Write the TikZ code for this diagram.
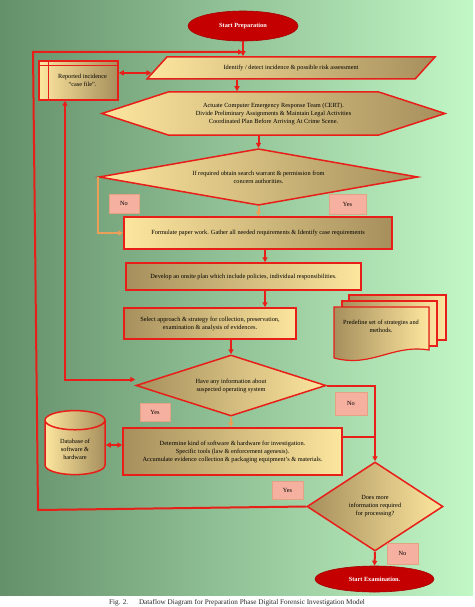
\documentclass[tikz,border=0pt]{standalone}
\usepackage{fontspec}
\setmainfont{Liberation Serif}
\usetikzlibrary{shapes.geometric,shapes.symbols,arrows.meta,calc}
\definecolor{bgdark}{RGB}{100,144,106}
\definecolor{bglight}{RGB}{194,247,198}
\definecolor{goldlight}{RGB}{253,230,158}
\definecolor{golddark}{RGB}{166,143,92}
\definecolor{flowred}{RGB}{232,30,24}
\definecolor{floworange}{RGB}{234,160,88}
\definecolor{tagpink}{RGB}{246,176,160}
\definecolor{tagedge}{RGB}{228,162,132}
\definecolor{termred}{RGB}{196,0,0}
\tikzset{
  backdrop/.style={left color=bgdark, right color=bglight},
  flow text/.style={font=\fontsize{6.3}{8}\selectfont, align=center, text=black},
  gold lr/.style={left color=goldlight, right color=golddark},
  gold rl/.style={left color=golddark, right color=goldlight},
  outline/.style={draw=flowred, line width=1.5pt},
  flow box/.style={rectangle, outline, flow text, inner sep=1pt, minimum width=#1},
  decision/.style={diamond, outline, flow text, inner sep=0pt, aspect=3},
  terminal/.style={ellipse, fill=termred, draw=termred!85!black, line width=0.6pt,
    text=white, font=\fontsize{6.3}{7.5}\selectfont\bfseries},
  tag/.style={rectangle, fill=tagpink, draw=tagedge, line width=0.7pt, flow text,
    minimum width=#1},
  flow/.style={draw=flowred, line width=2pt, -{Triangle[length=5pt,width=5pt]}},
  flow both/.style={flow, {Triangle[length=5pt,width=5pt]}-{Triangle[length=5pt,width=5pt]}},
  flow orange/.style={flow, draw=floworange},
  flow plain/.style={draw=flowred, line width=2pt},
  caption text/.style={font=\fontsize{7.2}{8.5}\selectfont, text=black!85}
}
\begin{document}
\begin{tikzpicture}[x=1pt, y=-1pt]
  \useasboundingbox (0,0) rectangle (474,607);
  \fill [backdrop] (0,0) rectangle (473,595);

  \node [terminal, minimum width=110, minimum height=30] (start) at (243,26) {Start Preparation};
  \node [trapezium, trapezium left angle=21.4, trapezium right angle=158.6, trapezium stretches body,
    outline, gold lr, flow text, inner sep=1pt, minimum width=288, minimum height=22] (ident) at (291,68)
    {Identify / detect incidence \& possible risk assessment};
  \node [flow box=79, gold lr, minimum height=39] (casefile) at (78.5,80.5)
    {\hspace*{8pt}Reported incidence\\\hspace*{8pt}“case file”.};
  \node [signal, signal to=east and west, signal pointer angle=36, outline, gold lr, flow text,
    inner sep=1pt, minimum width=343, minimum height=43] (cert) at (273.5,113.5)
    {Actuate Computer Emergency Response Team (CERT).\\
     Divide Preliminary Assignments \& Maintain Legal Activities\\
     Coordinated Plan Before Arriving At Crime Scene.};
  \node [decision, gold lr, minimum width=319, minimum height=54] (warrant) at (258.5,177)
    {If required obtain search warrant \& permission from\\concern authorities.};
  \node [tag=30, minimum height=19] (noA) at (124,203.5) {No};
  \node [tag=37, minimum height=20] (yesA) at (347.5,204) {Yes};
  \node [flow box=268, gold lr, minimum height=32] (paper) at (258,233)
    {Formulate paper work. Gather all needed requirements \& Identify case requirements};
  \node [flow box=235, gold rl, minimum height=27] (plan) at (243.5,276.5)
    {Develop an onsite plan which include policies, individual responsibilities.};
  \node [flow box=172, gold rl, minimum height=31] (approach) at (210,323.5)
    {Select approach \& strategy for collection, preservation,\\examination \& analysis of evidences.};
  \node [decision, gold rl, minimum width=190, minimum height=61] (osinfo) at (231,385.5)
    {Have any information about\\suspected operating system};
  \node [tag=30, minimum height=18] (yesB) at (155,412) {Yes};
  \node [tag=32, minimum height=23] (noB) at (351,403.5) {No};
  \node [flow box=219, gold rl, minimum height=47] (tools) at (232.5,451.5)
    {Determine kind of software \& hardware for investigation.\\
     Specific tools (law \& enforcement agenesis).\\
     Accumulate evidence collection \& packaging equipment’s \& materials.};
  \node [cylinder, shape border rotate=90, aspect=0.6, outline, gold lr, flow text, inner sep=1pt,
    minimum width=60, minimum height=64] (db) at (75,449) {Database of\\software \&\\hardware};
  \node [decision, gold rl, minimum width=136, minimum height=89] (more) at (375,506.5)
    {Does more\\information required\\for processing?};
  \node [tag=31, minimum height=18] (yesC) at (287.5,490) {Yes};
  \node [tag=31, minimum height=21] (noC) at (402.5,553.5) {No};
  \node [terminal, minimum width=119, minimum height=26] (exam) at (374.5,579) {Start Examination.};

  \filldraw [outline, gold rl, line width=1.2pt] (349,295) rectangle (446,340);
  \filldraw [outline, gold rl, line width=1.2pt] (342,301) rectangle (437,346);
  \filldraw [outline, gold rl, line width=1.2pt] (334,358) -- (334,307) -- (429,307) -- (429,350)
    .. controls (392,344) and (372,368) .. (334,358);
  \node [flow text] (strat) at (381,326) {Predefine set of strategies and\\methods.};

  \draw [flow plain, line width=1.3pt] ([yshift=-5pt]casefile.north west) -- ([yshift=-5pt]casefile.north east);
  \draw [flow plain, line width=1.3pt] ([xshift=10pt]casefile.north west) -- ([xshift=10pt]casefile.south west);

  \coordinate (loopA) at (38,510);
  \coordinate (loopB) at (33,52);
  \coordinate (identin) at ($(ident.bottom left corner)!0.29!(ident.top left corner)$);

  \draw [flow] (start.south) -- (start.south |- ident.north);
  \draw [flow] (more.west) -- (loopA) -- (loopB) -- (loopB -| start.south);
  \draw [flow both] (casefile.east |- identin) -- (identin);
  \draw [flow] ([xshift=-54pt]ident.south) -- ([xshift=-54pt]ident.south |- cert.north);
  \draw [flow] (warrant.north |- cert.south) -- (warrant.north);
  \draw [flow orange] (warrant.west) |- (paper.west);
  \draw [flow orange] (warrant.south) -- (warrant.south |- paper.north);
  \draw [flow] ([xshift=7pt]paper.south) -- ([xshift=7pt]paper.south |- plan.north);
  \draw [flow] ([xshift=7pt]paper.south |- plan.south) -- ([xshift=7pt]paper.south |- approach.north);
  \draw [flow] (osinfo.north |- approach.south) -- (osinfo.north);
  \draw [flow both] ([xshift=-13.5pt]casefile.south) |- ([yshift=6pt]osinfo.west);
  \draw [flow orange] (osinfo.south) -- (osinfo.south |- tools.north);
  \draw [flow] (osinfo.east) -| (more.north);
  \draw [flow plain] ([yshift=14.5pt]tools.east) -- ([yshift=14.5pt]tools.east -| more.north);
  \draw [flow both] ([yshift=4pt]db.east) -- ([yshift=4pt]db.east -| tools.west);
  \draw [flow] (more.south) -- (exam.north);

  \node [caption text] (caption) at (237,603)
    {Fig. 2.\quad\ \ Dataflow Diagram for Preparation Phase Digital Forensic Investigation Model};
\end{tikzpicture}
\end{document}
